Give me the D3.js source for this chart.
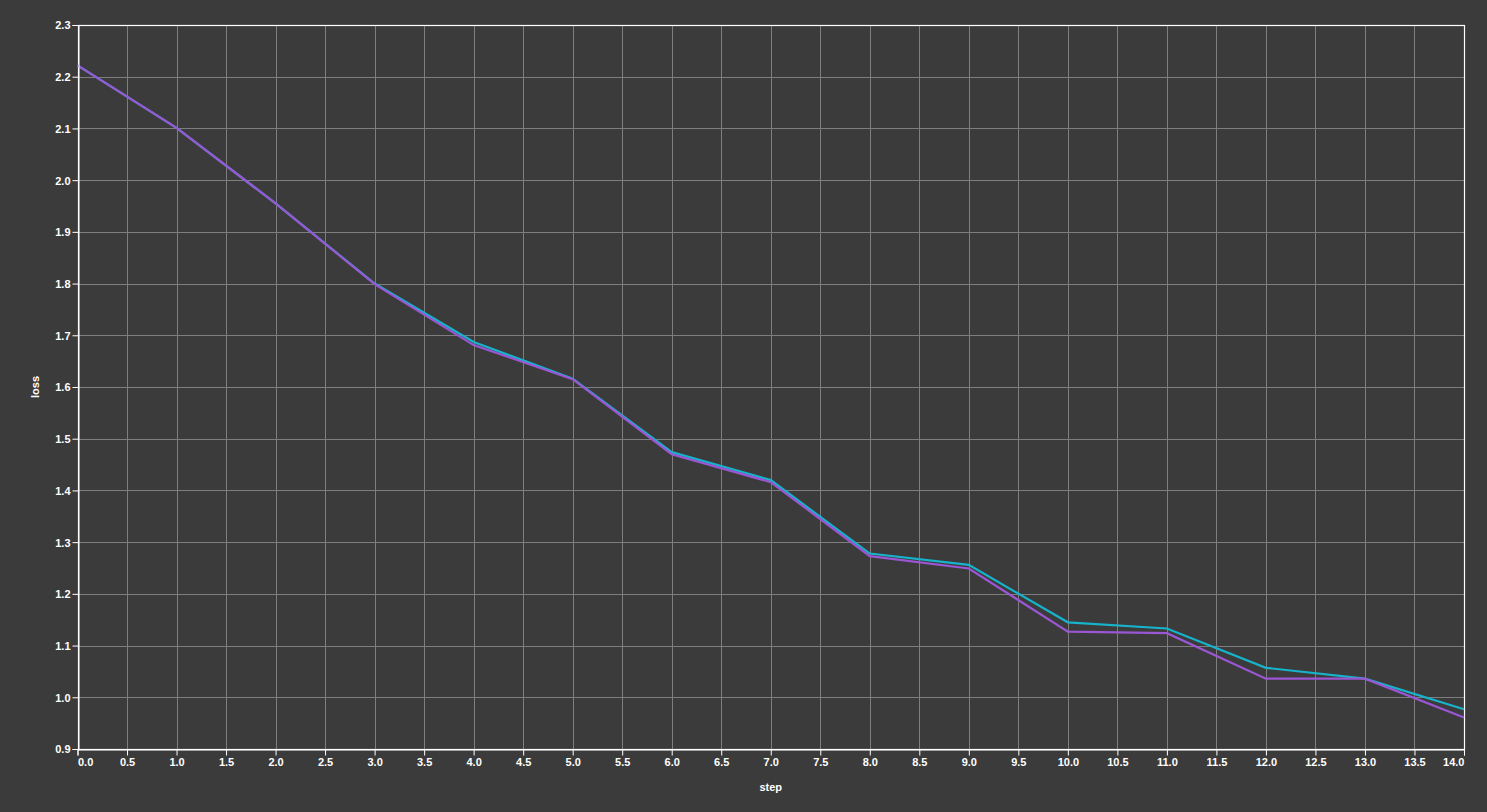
<!DOCTYPE html>
<html><head><meta charset="utf-8">
<script src="https://cdn.jsdelivr.net/npm/d3@7"></script>
<style>
html,body{margin:0;padding:0;background:#3b3b3b;}
svg{display:block;}
text{font-family:"Liberation Sans",Arial,sans-serif;font-weight:bold;fill:#fff;}
</style></head>
<body>
<script>
const steps = [0,1,2,3,4,5,6,7,8,9,10,11,12,13,14];
const lossCyan = [2.222,2.101,1.955,1.800,1.687,1.616,1.474,1.420,1.278,1.256,1.145,1.133,1.057,1.036,0.977];
const lossPurple = [2.222,2.101,1.955,1.799,1.681,1.615,1.470,1.416,1.273,1.249,1.127,1.124,1.036,1.036,0.961];
const xTicks = d3.range(0,14.01,0.5);
const yTicks = d3.range(0.9,2.301,0.1);
const colors = {cyan:"#17b3cb", purple:"#9a56d3"};

const W=1487,H=812;
const m={left:77.5,right:23,top:25,bottom:63};
const svg=d3.select("body").append("svg").attr("width",W).attr("height",H);
svg.append("rect").attr("width",W).attr("height",H).attr("fill","#3b3b3b");
const x=d3.scaleLinear().domain([0,14]).range([m.left,W-m.right]);
const y=d3.scaleLinear().domain([0.9,2.3]).range([H-m.bottom,m.top]);

const g=svg.append("g");
// grid
g.selectAll(".vg").data(xTicks).join("line")
 .attr("x1",d=>Math.round(x(d))+0.5).attr("x2",d=>Math.round(x(d))+0.5)
 .attr("y1",y(2.3)).attr("y2",y(0.9)).attr("stroke","#7e7e7e").attr("stroke-width",1);
g.selectAll(".hg").data(yTicks).join("line")
 .attr("y1",d=>Math.round(y(d))+0.5).attr("y2",d=>Math.round(y(d))+0.5)
 .attr("x1",x(0)).attr("x2",x(14)).attr("stroke","#7e7e7e").attr("stroke-width",1);

// frame
svg.append("rect").attr("x",Math.round(x(0))+0.5).attr("y",Math.round(y(2.3))+0.5)
 .attr("width",Math.round(x(14))-Math.round(x(0))).attr("height",Math.round(y(0.9))-Math.round(y(2.3)))
 .attr("fill","none").attr("stroke","#fff").attr("stroke-width",1.2);

const line=d3.line().x((d,i)=>x(steps[i])).y(d=>y(d));
svg.append("path").datum(lossCyan).attr("d",line).attr("fill","none").attr("stroke",colors.cyan).attr("stroke-width",2.2);
svg.append("path").datum(lossPurple).attr("d",line).attr("fill","none").attr("stroke",colors.purple).attr("stroke-width",2.2);

// axes
const xa=svg.append("g").attr("transform",`translate(0,${Math.round(y(0.9))+0.5})`)
 .call(d3.axisBottom(x).tickValues(xTicks).tickFormat(d3.format(".1f")).tickSize(6).tickPadding(3));
const ya=svg.append("g").attr("transform",`translate(${Math.round(x(0))+0.5},0)`)
 .call(d3.axisLeft(y).tickValues(yTicks).tickFormat(d3.format(".1f")).tickSize(6).tickPadding(2));
[xa,ya].forEach(a=>{
  a.select(".domain").attr("stroke","#fff");
  a.selectAll(".tick line").attr("stroke","#fff");
  a.selectAll(".tick text").attr("fill","#fff").style("font-size","11px")
   .style("font-family","'Liberation Sans',Arial,sans-serif").style("font-weight","bold");
});
xa.selectAll(".tick text").attr("text-anchor",(d,i,n)=> i===0?"start":(i===n.length-1?"end":"middle"));
ya.selectAll(".tick text").attr("dy","0.35em");

svg.append("text").attr("x",x(7)).attr("y",791).attr("text-anchor","middle").style("font-size","11px").text("step");
svg.append("text").attr("transform",`translate(39,${y(1.6)}) rotate(-90)`).attr("text-anchor","middle").style("font-size","11px").text("loss");
</script>
</body></html>
